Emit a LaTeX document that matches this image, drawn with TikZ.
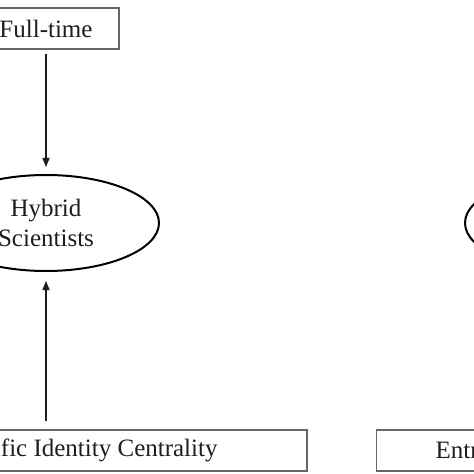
\documentclass[tikz,border=0pt]{standalone}
\usepackage{fontspec}
\setmainfont{Liberation Serif}
\usetikzlibrary{shapes.geometric,arrows.meta}
\definecolor{boxgray}{HTML}{666666}
\definecolor{txt}{HTML}{1E1E1E}
\begin{document}
\begin{tikzpicture}[x=1bp,y=-1bp,
  lbl/.style={font=\fontsize{25bp}{30bp}\selectfont, text=txt},
  box/.style={lbl, draw=boxgray, line width=1.3bp, minimum height=41bp, inner sep=0pt},
  oval/.style={lbl, ellipse, draw=black, line width=2bp, minimum width=226bp, minimum height=96bp, inner sep=0pt, align=center},
  arr/.style={-{Triangle[length=9bp,width=7bp]}, line width=1.3bp, draw=txt}]
\useasboundingbox (0,0) rectangle (474,474);
\clip (0,0) rectangle (474,474);
\node[box, minimum width=146bp] (ft) at (46,28.5) {Full-time};
\node[oval] (hs) at (46,223) {Hybrid\\Scientists};
\node[oval] (es) at (578,223) {};
\node[box, minimum width=465bp] (sic) at (74.5,450.5) {Scientific Identity Centrality};
\node[box, anchor=west, minimum width=250bp, inner xsep=59bp, text width=150bp, align=left] (eic) at (376,450.5) {Entr};
\draw[arr, shorten <=4bp, shorten >=7bp] (ft.south) -- (hs.north);
\draw[arr, shorten <=8bp, shorten >=9bp] (sic.north -| hs) -- (hs.south);
\end{tikzpicture}
\end{document}
